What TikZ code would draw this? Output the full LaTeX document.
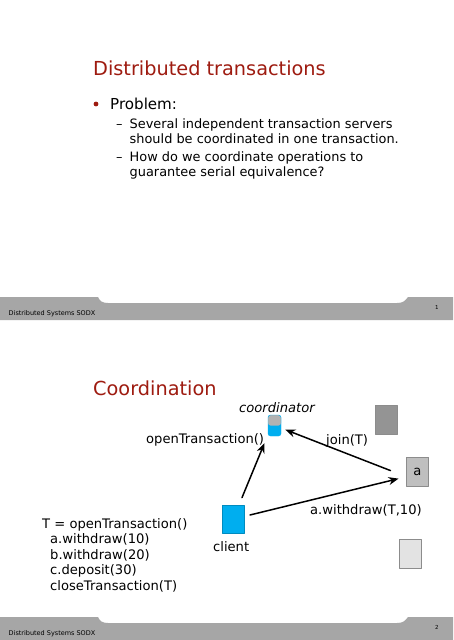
\documentclass[tikz,border=0pt]{standalone}
\usepackage{fontspec}
\setmainfont{DejaVu Sans}
\usepackage{tikz}
\usetikzlibrary{arrows.meta,calc,positioning}
\definecolor{titlered}{HTML}{9E1B10}
\definecolor{footergray}{HTML}{A6A6A6}
\definecolor{clientblue}{HTML}{00AEEF}
\newcommand{\textsizeA}{\fontsize{12.9}{15}\selectfont}
\newcommand{\textsizeB}{\fontsize{13.1}{15}\selectfont}
\tikzset{
  slide title/.style={anchor=base west,inner sep=0pt,text=titlered,font=\fontsize{19.3}{23}\selectfont},
  body text/.style={anchor=base west,inner sep=0pt,font=\textsizeA},
  diagram text/.style={anchor=base west,inner sep=0pt,font=\textsizeB},
  lead text/.style={anchor=base west,inner sep=0pt,font=\fontsize{15.1}{18}\selectfont},
  footer text/.style={anchor=base west,inner sep=0pt,font=\fontsize{6.5}{8}\selectfont},
  server/.style={draw=black!45,fill=#1,line width=.4pt,minimum width=22pt,minimum height=28.5pt,inner sep=0pt},
  call/.style={-{Stealth[length=10pt,width=8pt]},line width=1.5pt}
}
\newcommand{\FooterBand}[3]{
  \fill[footergray] (0,#1) -- (98,#1) .. controls (100,#1+4) and (102,#1+6) .. (108,#1+6)
    -- (397,#1+6) .. controls (403,#1+6) and (405,#1+4) .. (408,#1) -- (453,#1) -- (453,#1+23) -- (0,#1+23) -- cycle;
  \node[footer text] (footer#3) at (8.5,#1+18) {Distributed Systems SODX};
  \node[footer text,font=\fontsize{5.5}{6}\selectfont] (page#3) at (435,#1+12.5) {#2};
}
\begin{document}
\begin{tikzpicture}[x=1pt,y=-1pt,line cap=round,line join=round]
  \useasboundingbox (0,0) rectangle (453,640);
  \fill[white] (0,0) rectangle (453,640);

  % upper slide
  \FooterBand{297}{1}{one}
  \node[slide title] (title1) at (93,75) {Distributed transactions};
  \fill[titlered] (96,104) circle (2.4);
  \node[lead text] (problem) at (110,109) {Problem:};
  \node[body text] (dash1) at (116,128) {–};
  \node[body text] (line1) at (129.5,128) {Several independent transaction servers};
  \node[body text] (line2) at (129.5,143) {should be coordinated in one transaction.};
  \node[body text] (dash2) at (116,161) {–};
  \node[body text] (line3) at (129.5,161) {How do we coordinate operations to};
  \node[body text] (line4) at (129.5,176) {guarantee serial equivalence?};

  % lower slide
  \FooterBand{617}{2}{two}
  \node[slide title] (title2) at (93,395) {Coordination};

  \node[server=black!42] (s1) at (386,419.5) {};
  \node[server=black!25] (a) at (417.5,471.5) {\textsizeB a};
  \node[server=black!11] (s3) at (410,553.5) {};
  \node[server=clientblue,draw=clientblue!80!black] (client) at (233,519) {};
  \node[draw=clientblue,fill=clientblue,line width=.4pt,rounded corners=2.5pt,minimum width=13pt,minimum height=21pt,inner sep=0pt,
        path picture={
          \fill[black!30] (path picture bounding box.north west) rectangle (path picture bounding box.east);
        }] (coordinator) at (274.5,425.5) {};

  \draw[call,shorten <=7.5pt,shorten >=8.7pt] (client.67) -- (coordinator.235);
  \draw[call,shorten <=6pt,shorten >=8pt] (client.13) -- (a.205);
  \draw[call,shorten <=17pt,shorten >=4.5pt] (a.205) -- (coordinator.339);

  \node[diagram text,font=\textsizeB\itshape] (coordlabel) at (239,412) {coordinator};
  \node[diagram text] (open) at (146,443) {openTransaction()};
  \node[diagram text] (join) at (326,444) {join(T)};
  \node[diagram text] (withdraw) at (310,514) {a.withdraw(T,10)};
  \node[diagram text] (clientlabel) at (213,551) {client};

  \node[diagram text] (code1) at (42,528) {T = openTransaction()};
  \node[diagram text] (code2) at (50,543.5) {a.withdraw(10)};
  \node[diagram text] (code3) at (50,559) {b.withdraw(20)};
  \node[diagram text] (code4) at (50,574.5) {c.deposit(30)};
  \node[diagram text] (code5) at (50,590) {closeTransaction(T)};
\end{tikzpicture}
\end{document}
